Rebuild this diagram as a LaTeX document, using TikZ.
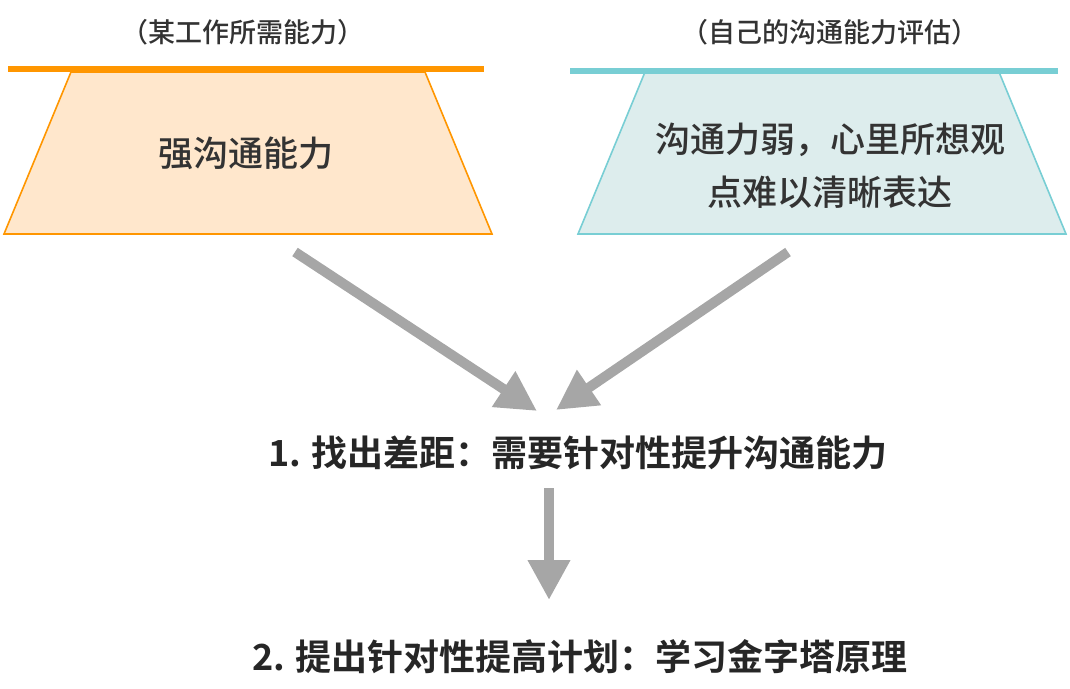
\documentclass[tikz,border=0pt]{standalone}
\usepackage{fontspec}
\setmainfont{Noto Sans CJK SC}[UprightFont=* Medium]
\newfontfamily\cjkbold{Noto Sans CJK SC Bold}
\usetikzlibrary{arrows.meta}
\definecolor{orgline}{HTML}{FF9600}
\definecolor{orgfill}{HTML}{FFE7CC}
\definecolor{tealline}{HTML}{78CED4}
\definecolor{tealfill}{HTML}{DDEDED}
\definecolor{txtgray}{HTML}{333333}
\definecolor{arrgray}{HTML}{A6A6A6}
\tikzset{
  toplabel/.style={text=txtgray, font=\fontsize{27}{30}\selectfont, inner sep=0pt},
  bodytext/.style={text=txtgray, font=\fontsize{35}{53}\selectfont, align=center, inner sep=0pt},
  steptext/.style={text=black!85, font=\cjkbold\fontsize{36}{40}\selectfont, inner sep=0pt},
  bigarrow/.style={draw=arrgray, line width=10pt, -{Triangle[length=40pt,width=40pt]}},
  capbar/.style={line width=6pt},
}
\begin{document}
\begin{tikzpicture}[x=1pt,y=-1pt]
\useasboundingbox (0,0) rectangle (1070,688);
% left trapezoid
\draw[orgline, fill=orgfill, line width=1.6pt, line join=miter]
  (71,72) -- (425,72) -- (492,234) -- (4,234) -- cycle;
\draw[orgline, capbar] (8,69) -- (484,69);
% right trapezoid
\draw[tealline, fill=tealfill, line width=1.6pt, line join=miter]
  (645,72) -- (999,72) -- (1066,234) -- (578,234) -- cycle;
\draw[tealline, capbar] (570,71) -- (1058,71);
% labels
\node[toplabel] (reqlabel) at (243,32) {（某工作所需能力）};
\node[toplabel] (selflabel) at (830,32) {（自己的沟通能力评估）};
\node[bodytext] (req) at (246,153) {强沟通能力};
\node[bodytext] (self) at (830,166) {沟通力弱，心里所想观\\点难以清晰表达};
\node[steptext] (gap) at (578,453) {1. 找出差距：需要针对性提升沟通能力};
\node[steptext] (plan) at (580,657) {2. 提出针对性提高计划：学习金字塔原理};
% arrow anchors
\coordinate (lstart) at (295,252);
\coordinate (ltip) at (537,411);
\coordinate (rstart) at (788,252);
\coordinate (rtip) at (556,410);
\coordinate (dstart) at (549,488);
\coordinate (dtip) at (549,600);
\draw[bigarrow] (lstart) -- (ltip);
\draw[bigarrow] (rstart) -- (rtip);
\draw[bigarrow] (dstart) -- (dtip);
\end{tikzpicture}
\end{document}
